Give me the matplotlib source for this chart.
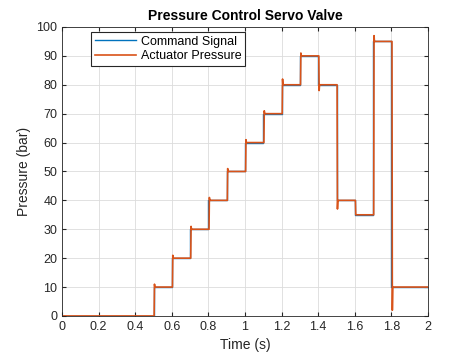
import matplotlib
matplotlib.use('Agg')
import matplotlib.pyplot as plt

plt.rcParams['font.family'] = ['Liberation Sans', 'DejaVu Sans']

# command signal: step times (s) and levels (bar)
cmd_times = [0.0, 0.5, 0.6, 0.7, 0.8, 0.9, 1.0, 1.1, 1.2, 1.3, 1.4, 1.5, 1.6, 1.7, 1.8]
cmd_levels = [0, 10, 20, 30, 40, 50, 60, 70, 80, 90, 80, 40, 35, 95, 10]
t_end = 2.0

# actuator pressure: peak value reached right after each step
act_peaks = [0, 11, 21, 31, 41, 51, 61, 71, 82, 91, 78, 37, 35, 97, 2]
act_lag = 0.003

# build the step paths
cmd_t, cmd_y = [], []
for i, (t, v) in enumerate(zip(cmd_times, cmd_levels)):
    t_next = cmd_times[i + 1] if i + 1 < len(cmd_times) else t_end
    cmd_t += [t, t_next]
    cmd_y += [v, v]

act_t, act_y = [0.0], [0]
for i in range(1, len(cmd_times)):
    t = cmd_times[i] + act_lag
    act_t += [t, t + 0.002, t + 0.004, t + 0.008]
    act_y += [cmd_levels[i - 1], act_peaks[i], cmd_levels[i], cmd_levels[i]]
act_t.append(t_end)
act_y.append(cmd_levels[-1])

fig = plt.figure(figsize=(4.74, 3.55), dpi=100)
ax = fig.add_axes([0.131, 0.110, 0.772, 0.814])

ax.plot(cmd_t, cmd_y, color='#0072BD', lw=1.0, label='Command Signal')
ax.plot(act_t, act_y, color='#D95319', lw=1.2, label='Actuator Pressure')

ax.set_xlim(0, 2)
ax.set_ylim(0, 100)
ax.set_xticks([0, 0.2, 0.4, 0.6, 0.8, 1, 1.2, 1.4, 1.6, 1.8, 2])
ax.set_xticklabels(['0', '0.2', '0.4', '0.6', '0.8', '1', '1.2', '1.4', '1.6', '1.8', '2'])
ax.set_yticks(range(0, 101, 10))
ax.grid(True, color='#dcdcdc', lw=0.6)
ax.tick_params(direction='in', top=True, right=True, labelsize=9, colors='#262626', length=3)
for s in ax.spines.values():
    s.set_color('#262626')
    s.set_linewidth(0.6)

ax.set_title('Pressure Control Servo Valve', fontsize=10, fontweight='bold', pad=5)
ax.set_xlabel('Time (s)', fontsize=10, color='#262626')
ax.set_ylabel('Pressure (bar)', fontsize=10, color='#262626')

leg = ax.legend(loc='upper left', bbox_to_anchor=(0.079, 0.983), borderaxespad=0, fontsize=9,
                fancybox=False, framealpha=1, edgecolor='#262626',
                borderpad=0.3, handlelength=3.3, handletextpad=0.4, labelspacing=0.2)
leg.get_frame().set_linewidth(0.8)

fig.savefig('out.png', dpi=100)
